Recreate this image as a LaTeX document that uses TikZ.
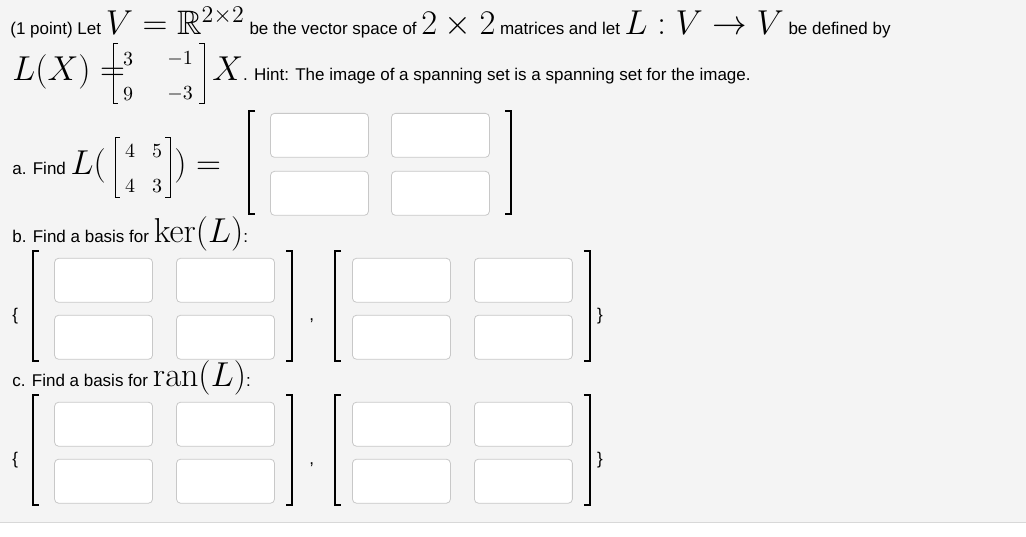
\documentclass[tikz,border=0pt]{standalone}
\usepackage{amsmath,amssymb,graphicx}
\usepackage[no-math]{fontspec}
\setmainfont{Liberation Sans}
\usetikzlibrary{positioning}
\definecolor{pagebg}{HTML}{F4F4F4}
\definecolor{boxline}{HTML}{C8C8C8}
\newcommand{\mth}[1]{\scalebox{2}{$#1$}}
\newcommand{\openbrk}[3]{\draw[line width=2pt] (#1+6,#2) -- (#1,#2) -- (#1,#3) -- (#1+6,#3);}
\newcommand{\closebrk}[3]{\draw[line width=2pt] (#1-6,#2) -- (#1,#2) -- (#1,#3) -- (#1-6,#3);}
\newcommand{\thinopen}[3]{\draw[line width=1pt] (#1+5,#2) -- (#1,#2) -- (#1,#3) -- (#1+5,#3);}
\newcommand{\thinclose}[3]{\draw[line width=1pt] (#1-5,#2) -- (#1,#2) -- (#1,#3) -- (#1-5,#3);}
\begin{document}
\begin{tikzpicture}[x=1pt,y=-1pt,
    txt/.style={anchor=base west,inner sep=0pt,font=\fontsize{17}{20}\selectfont},
    ent/.style={inner sep=0pt},
    ansbox/.style={draw=boxline,fill=white,rounded corners=4pt,anchor=north west,
        minimum width=98pt,minimum height=44pt,inner sep=0pt,line width=0.8pt}]
  %%%%% PAGE
  \fill[pagebg] (0,0) rectangle (1026,522);
  \fill[white] (0,522) rectangle (1026,537);
  \draw[boxline!70] (0,522) -- (1026,522);
  \useasboundingbox (0,0) rectangle (1026,537);
  %%%%% THE STATEMENT
  \node[txt] (intro) at (10,35) {(1 point) Let \mth{V=\mathbb{R}^{2\times2}} be the vector space of \mth{2\times2} matrices and let \mth{L:V\to V} be defined by};
  \node[txt] (LX) at (12,81) {\mth{L(X) =}};
  \thinopen{113}{44}{104}
  \thinclose{204}{44}{104}
  \node[ent] (m11) at (128,59) {\mth{3}};
  \node[ent] (m12) at (180,59) {\mth{-1}};
  \node[ent] (m21) at (128,94) {\mth{9}};
  \node[ent] (m22) at (180,94) {\mth{-3}};
  \node[txt] (hint) at (212,81) {\mth{X}. Hint: The image of a spanning set is a spanning set for the image.};
  %%%%% PART A
  \node[txt] (parta) at (12,175) {a. Find \mth{L(}};
  \thinopen{115}{138}{198}
  \thinclose{170}{138}{198}
  \node[ent] (n11) at (130,151) {\mth{4}};
  \node[ent] (n12) at (157,151) {\mth{5}};
  \node[ent] (n21) at (130,186) {\mth{4}};
  \node[ent] (n22) at (157,186) {\mth{3}};
  \node[txt] (eqa) at (174,175) {\mth{)=}};
  \openbrk{249}{111}{214}
  \closebrk{511}{111}{214}
  \node[ansbox] (a11) at (270,113) {};
  \node[ansbox] (a12) at (391,113) {};
  \node[ansbox] (a21) at (270,171) {};
  \node[ansbox] (a22) at (391,171) {};
  %%%%% PARTS B AND C
  \foreach \nm/\lab/\ty in {b/{b. Find a basis for \mth{\ker(L)}:}/0, c/{c. Find a basis for \mth{\operatorname{ran}(L)}:}/144}{
    \node[txt] (part\nm) at (12,243+\ty) {\lab};
    \node[txt] (lb\nm) at (12,321+\ty) {\{};
    \node[txt] (cm\nm) at (309,321+\ty) {,};
    \node[txt] (rb\nm) at (597,321+\ty) {\}};
    \foreach \mx in {0,298}{
      \openbrk{33+\mx+4*\mx/298}{251+\ty}{361+\ty}
      \closebrk{292+\mx}{251+\ty}{361+\ty}
      \node[ansbox] (\nm-\mx-11) at (54+\mx,258+\ty) {};
      \node[ansbox] (\nm-\mx-12) at (176+\mx,258+\ty) {};
      \node[ansbox] (\nm-\mx-21) at (54+\mx,315+\ty) {};
      \node[ansbox] (\nm-\mx-22) at (176+\mx,315+\ty) {};
    }
  }
\end{tikzpicture}
\end{document}
